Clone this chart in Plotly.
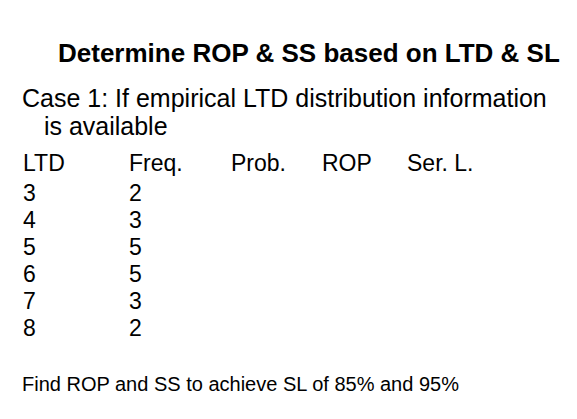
import plotly.graph_objects as go

headers = ["LTD", "Freq.", "Prob.", "ROP", "Ser. L."]
ltd = [3, 4, 5, 6, 7, 8]
freq = [2, 3, 5, 5, 3, 2]

title = "<b>Determine ROP & SS based on LTD & SL</b>"
case_text = ["Case 1: If empirical LTD distribution information", "  is available"]
footer = "Find ROP and SS to achieve SL of 85% and 95%"

col_x = [15, 121, 223, 314, 399]
header_y = 157
row_y = [187, 214, 241, 268, 295, 322]

fig = go.Figure()
font = dict(family="Liberation Sans, Arial", size=23, color="black")

fig.add_trace(go.Scatter(x=col_x, y=[header_y] * len(headers), text=headers,
                         mode="text", textposition="middle right", textfont=font,
                         hoverinfo="skip"))
fig.add_trace(go.Scatter(x=[col_x[0]] * len(ltd), y=row_y, text=[str(v) for v in ltd],
                         mode="text", textposition="middle right", textfont=font,
                         hoverinfo="skip"))
fig.add_trace(go.Scatter(x=[col_x[1]] * len(freq), y=row_y, text=[str(v) for v in freq],
                         mode="text", textposition="middle right", textfont=font,
                         hoverinfo="skip"))

fig.add_annotation(x=301, y=45, text=title, showarrow=False, xanchor="center",
                   font=dict(family="Liberation Sans, Arial", size=26, color="black"))
fig.add_annotation(x=12, y=90, text=case_text[0], showarrow=False, xanchor="left",
                   font=dict(family="Liberation Sans, Arial", size=25, color="black"))
fig.add_annotation(x=20, y=118, text=case_text[1], showarrow=False, xanchor="left",
                   font=dict(family="Liberation Sans, Arial", size=25, color="black"))
fig.add_annotation(x=12, y=376, text=footer, showarrow=False, xanchor="left",
                   font=dict(family="Liberation Sans, Arial", size=20, color="black"))

fig.update_layout(width=577, height=419, margin=dict(l=0, r=0, t=0, b=0),
                  showlegend=False, plot_bgcolor="white", paper_bgcolor="white",
                  xaxis=dict(range=[0, 577], visible=False, fixedrange=True),
                  yaxis=dict(range=[419, 0], visible=False, fixedrange=True))
fig.write_html("out.html")
